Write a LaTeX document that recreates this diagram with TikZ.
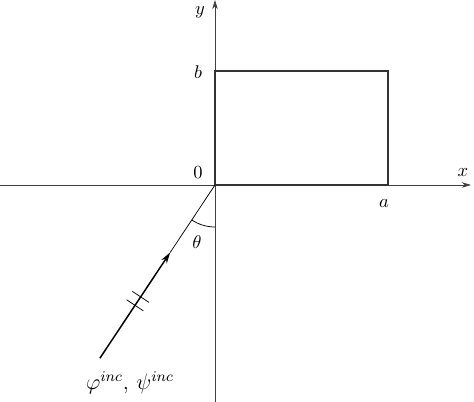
\documentclass[tikz,border=0pt]{standalone}
\usepackage{amsmath,amssymb}
\usepackage{tikz}
\usetikzlibrary{arrows.meta,calc,decorations.markings}

\begin{document}
\begin{tikzpicture}[
    x=0.019cm, y=0.019cm,
    axis/.style={-{Stealth[length=5pt,width=3pt]}, thin, black!75},
    plate/.style={line width=1.6pt, black!80},
    wave/.style={-{Stealth[length=6pt,width=3.5pt]}, thick},
    lbl/.style={inner sep=1pt}
]
    \useasboundingbox (-215,-217) rectangle (259,185);

    % Axes
    \coordinate (O) at (0,0);
    \coordinate (xmin) at (-215,0);
    \coordinate (xmax) at (256,0);
    \coordinate (ymin) at (0,-217);
    \coordinate (ymax) at (0,185);
    \draw[axis] (xmin) -- (xmax);
    \draw[axis] (ymin) -- (ymax);

    % Rectangle
    \draw[plate] (O) rectangle (173,114);

    % Incident wave
    \coordinate (src) at (236.4:208);
    \coordinate (tip) at (236.4:81);
    \draw[thin] (tip) -- (O);
    \draw[wave] (src) -- (tip);
    \foreach \s in {0.50,0.58} {
        \draw[thin] ($(src)!\s!(tip)$) ++(146.4:10) -- ++(-33.6:20);
    }

    % Angle
    \draw[thin] (0,-42) arc[start angle=-90, end angle=-123.6, radius=42];

    % Labels
    \node[lbl] (ylbl) at (-15,173) {$y$};
    \node[lbl] (blbl) at (-17,113) {$b$};
    \node[lbl] (zero) at (-17,12) {$0$};
    \node[lbl] (xlbl) at (248,12) {$x$};
    \node[lbl] (albl) at (169,-19) {$a$};
    \node[lbl] (theta) at (-18,-57) {$\theta$};
    \node[lbl] (inc) at (-85,-198) {\large$\varphi^{inc},\,\psi^{inc}$};
\end{tikzpicture}
\end{document}
